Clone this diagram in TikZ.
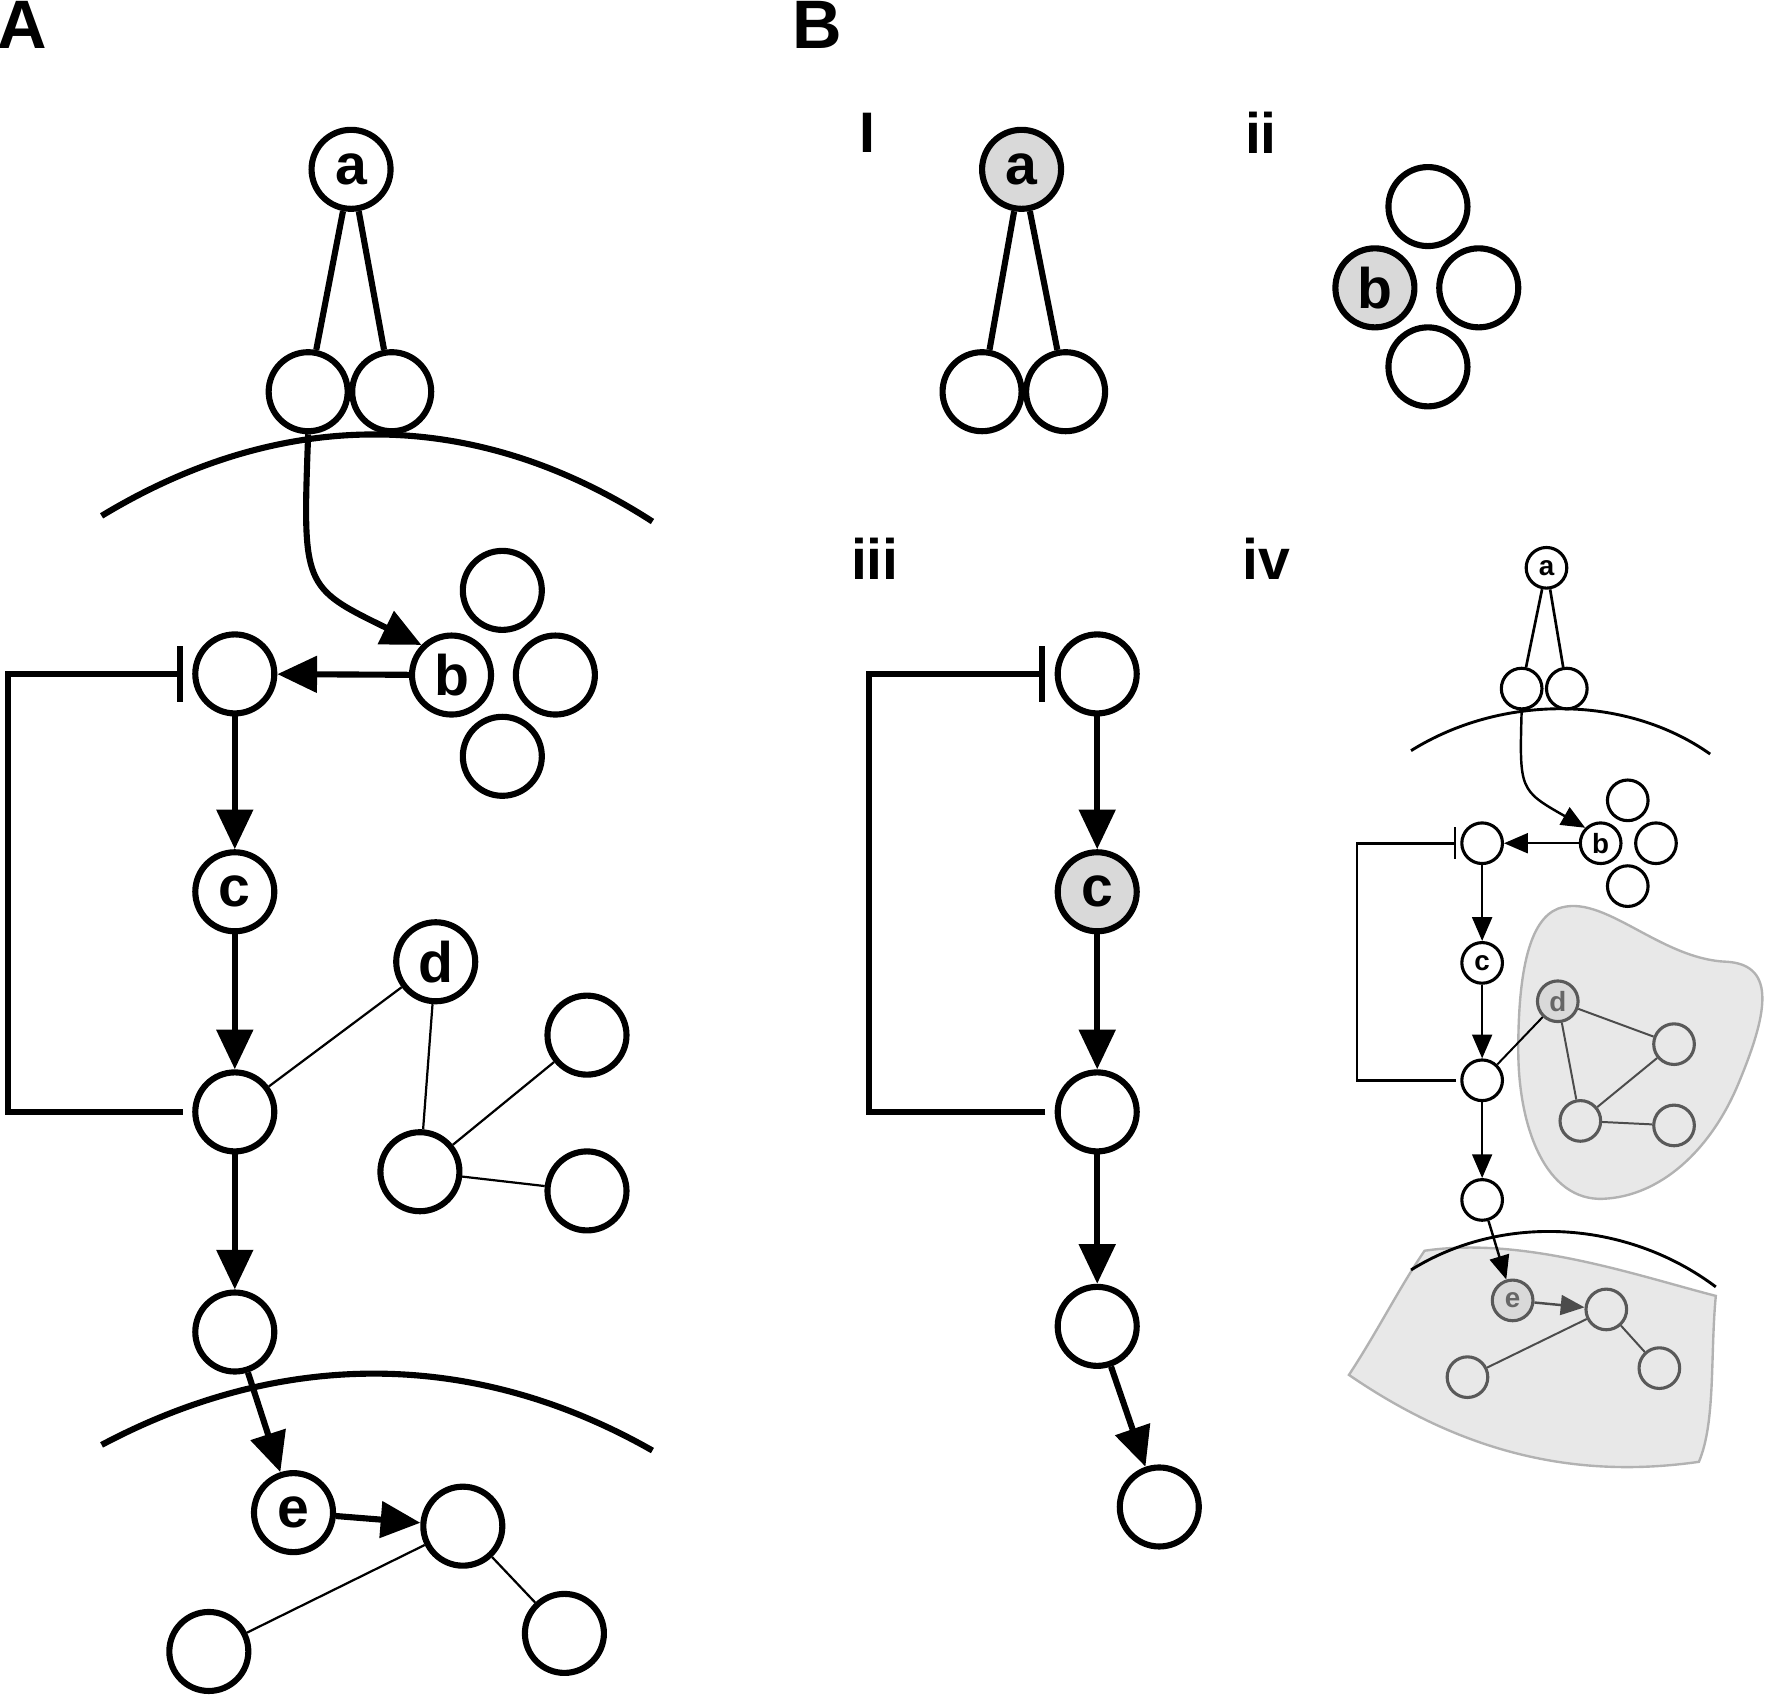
\documentclass[tikz,border=0pt]{standalone}
\usepackage{fontspec}
\setmainfont{Liberation Sans}
\usetikzlibrary{arrows.meta}
\begin{document}
\begin{tikzpicture}[x=0.01cm,y=-0.01cm,
 big/.style={circle,draw,line width=5.5pt*0.28,minimum size=70*0.01cm,inner sep=0,font=\bfseries\Large},
 gbig/.style={big,fill=gray!30},
 sm/.style={circle,draw,line width=2.8pt*0.28,minimum size=36*0.01cm,inner sep=0,font=\bfseries\scriptsize},
 gsm/.style={sm,draw=black!65,fill=gray!30,text=black!60},
 dsm/.style={sm,draw=black!65},
 th/.style={line width=5.5pt*0.28},
 tn/.style={line width=2pt*0.28},
 arr/.style={th,-{Triangle[length=10pt,width=9pt]}},
 sarr/.style={line width=2.2pt*0.28,-{Triangle[length=6pt,width=5pt]}},
 rom/.style={font=\bfseries\Large}]
\useasboundingbox (0,0) rectangle (1568,1509);
\node[font=\bfseries\LARGE] at (20,22) {A};
\node[font=\bfseries\LARGE] at (724,22) {B};
% Panel A
\node[big] (a) at (311,150) {a};
\node[big] (a1) at (273,347) {};
\node[big] (a2) at (347,347) {};
\draw[th] (a) -- (a1); \draw[th] (a) -- (a2);
\draw[th] (90,457) .. controls (250,360) and (420,360) .. (578,462);
\node[big] (b) at (400,598) {b};
\node[big] (b1) at (445,523) {};
\node[big] (b2) at (492,598) {};
\node[big] (b3) at (445,670) {};
\draw[arr] (a1.south) .. controls (268,520) .. (b.north west);
\node[big] (n1) at (208,597) {};
\node[big] (c) at (208,790) {c};
\node[big] (n3) at (208,985) {};
\node[big] (n4) at (208,1180) {};
\draw[arr] (b) -- (n1);
\draw[arr] (n1) -- (c); \draw[arr] (c) -- (n3); \draw[arr] (n3) -- (n4);
\coordinate (fa) at (162,985); \coordinate (fb) at (162,597);
\draw[th,-{Bar[width=14pt]}] (fa) -- (7,985) -- (7,597) -- (fb);
\node[big] (d) at (386,852) {d};
\node[big] (d1) at (520,917) {};
\node[big] (d2) at (372,1038) {};
\node[big] (d3) at (520,1055) {};
\draw[tn] (n3) -- (d); \draw[tn] (d) -- (d2); \draw[tn] (d2) -- (d1); \draw[tn] (d2) -- (d3);
\draw[th] (90,1280) .. controls (250,1195) and (420,1195) .. (578,1285);
\node[big] (e) at (260,1340) {e};
\node[big] (e1) at (410,1352) {};
\node[big] (e2) at (185,1463) {};
\node[big] (e3) at (500,1447) {};
\draw[arr] (n4) -- (e); \draw[arr] (e) -- (e1);
\draw[tn] (e1) -- (e2); \draw[tn] (e1) -- (e3);
% Panel B i
\node[rom] at (768,118) {I};
\node[gbig] (ia) at (905,150) {a};
\node[big] (ia1) at (870,347) {};
\node[big] (ia2) at (944,347) {};
\draw[th] (ia) -- (ia1); \draw[th] (ia) -- (ia2);
% ii
\node[rom] at (1117,118) {ii};
\node[gbig] (ib) at (1218,255) {b};
\node[big] (ib1) at (1265,183) {};
\node[big] (ib2) at (1310,255) {};
\node[big] (ib3) at (1265,325) {};
% iii
\node[rom] at (775,495) {iii};
\node[big] (m1) at (972,597) {};
\node[gbig] (mc) at (972,790) {c};
\node[big] (m3) at (972,985) {};
\node[big] (m4) at (972,1175) {};
\node[big] (m5) at (1027,1335) {};
\draw[arr] (m1) -- (mc); \draw[arr] (mc) -- (m3); \draw[arr] (m3) -- (m4); \draw[arr] (m4) -- (m5);
\coordinate (ga) at (926,985); \coordinate (gb) at (926,597);
\draw[th,-{Bar[width=14pt]}] (ga) -- (770,985) -- (770,597) -- (gb);
% iv
\node[rom] at (1122,495) {iv};
\fill[gray!18,draw=gray!60,line width=0.6pt] (1380,805) .. controls (1420,790) and (1470,850) .. (1530,852) .. controls (1575,855) and (1565,900) .. (1540,960) .. controls (1515,1020) and (1470,1060) .. (1420,1062) .. controls (1370,1064) and (1345,1000) .. (1345,930) .. controls (1345,860) and (1355,815) .. (1380,805) -- cycle;
\fill[gray!18,draw=gray!60,line width=0.6pt] (1262,1108) .. controls (1350,1095) and (1450,1130) .. (1520,1148) .. controls (1515,1200) and (1520,1260) .. (1505,1295) .. controls (1400,1310) and (1300,1290) .. (1195,1218) .. controls (1220,1180) and (1240,1140) .. (1262,1108) -- cycle;
\node[sm] (va) at (1370,503) {a};
\node[sm] (va1) at (1348,610) {};
\node[sm] (va2) at (1388,610) {};
\draw[line width=2.4pt*0.28] (va) -- (va1); \draw[line width=2.4pt*0.28] (va) -- (va2);
\draw[line width=2.6pt*0.28] (1250,665) .. controls (1330,615) and (1440,615) .. (1515,668);
\node[sm] (vb) at (1418,747) {b};
\node[sm] (vb1) at (1442,709) {};
\node[sm] (vb2) at (1467,747) {};
\node[sm] (vb3) at (1442,785) {};
\draw[sarr] (va1.south) .. controls (1346,700) .. (vb.north west);
\node[sm] (v1) at (1313,747) {};
\node[sm] (vc) at (1313,853) {c};
\node[sm] (v3) at (1313,957) {};
\node[sm] (v4) at (1313,1063) {};
\draw[sarr] (vb) -- (v1); \draw[sarr] (v1) -- (vc); \draw[sarr] (vc) -- (v3); \draw[sarr] (v3) -- (v4);
\coordinate (ha) at (1290,957); \coordinate (hb) at (1290,747);
\draw[line width=2.4pt*0.28,-{Bar[width=8pt]}] (ha) -- (1202,957) -- (1202,747) -- (hb);
\node[gsm] (vd) at (1380,887) {d};
\node[dsm] (vd1) at (1483,925) {};
\node[dsm] (vd2) at (1400,993) {};
\node[dsm] (vd3) at (1483,997) {};
\draw[line width=0.5pt] (v3) -- (vd);
\draw[line width=0.5pt,black!70] (vd) -- (vd1); \draw[line width=0.5pt,black!70] (vd) -- (vd2);
\draw[line width=0.5pt,black!70] (vd2) -- (vd1); \draw[line width=0.5pt,black!70] (vd2) -- (vd3);
\draw[line width=2.6pt*0.28] (1250,1125) .. controls (1330,1075) and (1440,1080) .. (1520,1140);
\node[gsm] (ve) at (1340,1152) {e};
\node[dsm] (ve1) at (1423,1160) {};
\node[dsm] (ve2) at (1300,1220) {};
\node[dsm] (ve3) at (1470,1212) {};
\draw[sarr] (v4) -- (ve);
\draw[sarr,black!70] (ve) -- (ve1);
\draw[line width=0.5pt,black!70] (ve1) -- (ve2); \draw[line width=0.5pt,black!70] (ve1) -- (ve3);
\end{tikzpicture}
\end{document}
